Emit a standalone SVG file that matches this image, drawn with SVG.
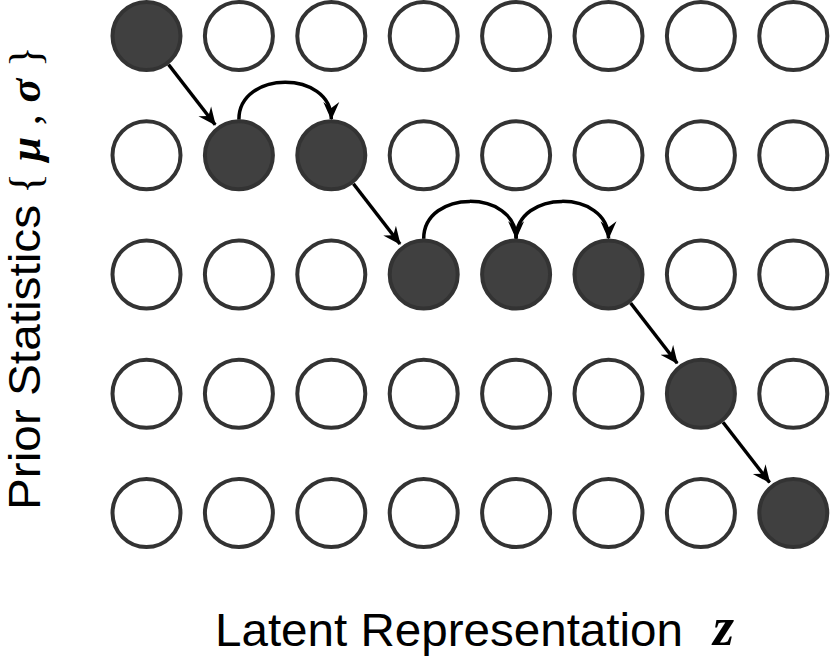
<svg xmlns="http://www.w3.org/2000/svg" width="830" height="657" viewBox="0 0 830 657">
<style>
.n{fill:#ffffff;stroke:#333333;stroke-width:4}
.d{fill:#404040;stroke:#333333;stroke-width:4}
.c{fill:none;stroke:#000000;stroke-width:3.5;marker-end:url(#ah)}
.lbl{font-family:"Liberation Sans",Arial,sans-serif;font-size:46px;fill:#000000}
.lv{font-size:44px}
.m{font-family:"Liberation Serif","Times New Roman",serif;font-size:44px;fill:#000000}
.mi{font-weight:bold;font-style:italic}
.z{font-size:54px}
</style>
<defs>
<marker id="ah" viewBox="0 0 18 18" refX="17" refY="9" markerWidth="18" markerHeight="18" markerUnits="userSpaceOnUse" orient="auto">
<path d="M0,1 L18,9 L0,17 L6,9 Z" fill="#000000"/>
</marker>
</defs>
<rect width="830" height="657" fill="#ffffff"/>
<g id="nodes">
<g id="n-0-0"><circle class="d" cx="146.5" cy="36" r="34"/></g>
<g id="n-0-1"><circle class="n" cx="238.9" cy="36" r="34"/></g>
<g id="n-0-2"><circle class="n" cx="331.3" cy="36" r="34"/></g>
<g id="n-0-3"><circle class="n" cx="423.7" cy="36" r="34"/></g>
<g id="n-0-4"><circle class="n" cx="516.1" cy="36" r="34"/></g>
<g id="n-0-5"><circle class="n" cx="608.5" cy="36" r="34"/></g>
<g id="n-0-6"><circle class="n" cx="700.9" cy="36" r="34"/></g>
<g id="n-0-7"><circle class="n" cx="793.3" cy="36" r="34"/></g>
<g id="n-1-0"><circle class="n" cx="146.5" cy="155.25" r="34"/></g>
<g id="n-1-1"><circle class="d" cx="238.9" cy="155.25" r="34"/></g>
<g id="n-1-2"><circle class="d" cx="331.3" cy="155.25" r="34"/></g>
<g id="n-1-3"><circle class="n" cx="423.7" cy="155.25" r="34"/></g>
<g id="n-1-4"><circle class="n" cx="516.1" cy="155.25" r="34"/></g>
<g id="n-1-5"><circle class="n" cx="608.5" cy="155.25" r="34"/></g>
<g id="n-1-6"><circle class="n" cx="700.9" cy="155.25" r="34"/></g>
<g id="n-1-7"><circle class="n" cx="793.3" cy="155.25" r="34"/></g>
<g id="n-2-0"><circle class="n" cx="146.5" cy="274.5" r="34"/></g>
<g id="n-2-1"><circle class="n" cx="238.9" cy="274.5" r="34"/></g>
<g id="n-2-2"><circle class="n" cx="331.3" cy="274.5" r="34"/></g>
<g id="n-2-3"><circle class="d" cx="423.7" cy="274.5" r="34"/></g>
<g id="n-2-4"><circle class="d" cx="516.1" cy="274.5" r="34"/></g>
<g id="n-2-5"><circle class="d" cx="608.5" cy="274.5" r="34"/></g>
<g id="n-2-6"><circle class="n" cx="700.9" cy="274.5" r="34"/></g>
<g id="n-2-7"><circle class="n" cx="793.3" cy="274.5" r="34"/></g>
<g id="n-3-0"><circle class="n" cx="146.5" cy="393.75" r="34"/></g>
<g id="n-3-1"><circle class="n" cx="238.9" cy="393.75" r="34"/></g>
<g id="n-3-2"><circle class="n" cx="331.3" cy="393.75" r="34"/></g>
<g id="n-3-3"><circle class="n" cx="423.7" cy="393.75" r="34"/></g>
<g id="n-3-4"><circle class="n" cx="516.1" cy="393.75" r="34"/></g>
<g id="n-3-5"><circle class="n" cx="608.5" cy="393.75" r="34"/></g>
<g id="n-3-6"><circle class="d" cx="700.9" cy="393.75" r="34"/></g>
<g id="n-3-7"><circle class="n" cx="793.3" cy="393.75" r="34"/></g>
<g id="n-4-0"><circle class="n" cx="146.5" cy="513" r="34"/></g>
<g id="n-4-1"><circle class="n" cx="238.9" cy="513" r="34"/></g>
<g id="n-4-2"><circle class="n" cx="331.3" cy="513" r="34"/></g>
<g id="n-4-3"><circle class="n" cx="423.7" cy="513" r="34"/></g>
<g id="n-4-4"><circle class="n" cx="516.1" cy="513" r="34"/></g>
<g id="n-4-5"><circle class="n" cx="608.5" cy="513" r="34"/></g>
<g id="n-4-6"><circle class="n" cx="700.9" cy="513" r="34"/></g>
<g id="n-4-7"><circle class="d" cx="793.3" cy="513" r="34"/></g>
</g>
<g id="connectors">
<path class="c" d="M168.5,64.5 L215.2,124.8"/>
<path class="c" d="M238.9,119.5 C238.9,70 331.3,70 331.3,119"/>
<path class="c" d="M353.4,183.7 L400,244"/>
<path class="c" d="M423.7,238.7 C423.7,189 516.1,189 516.1,238.3"/>
<path class="c" d="M516.1,238.7 C516.1,189 608.5,189 608.5,238.3"/>
<path class="c" d="M630.6,303 L677.2,363.3"/>
<path class="c" d="M723,422.2 L769.6,482.5"/>
</g>
<g id="labels">
<text class="lbl lv" transform="translate(40,510) rotate(-90)" textLength="305" lengthAdjust="spacingAndGlyphs">Prior Statistics</text>
<text class="m" transform="translate(40,194) rotate(-90)" textLength="148" lengthAdjust="spacing">{<tspan class="mi">μ</tspan>,<tspan class="mi">σ</tspan>}</text>
<text class="lbl" x="215" y="646" textLength="468" lengthAdjust="spacingAndGlyphs">Latent Representation</text>
<text class="m mi z" x="713" y="645">z</text>
</g>
</svg>
